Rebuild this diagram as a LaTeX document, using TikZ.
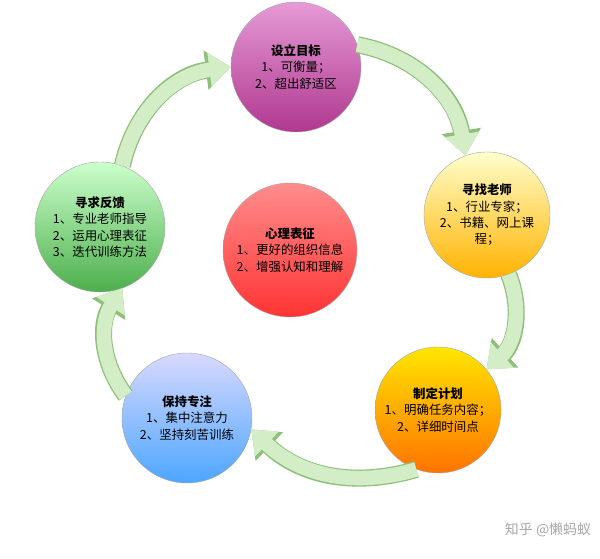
\documentclass[tikz,border=0pt]{standalone}
\usepackage{fontspec}
\setmainfont{Noto Sans CJK SC}
\usetikzlibrary{arrows.meta}
\definecolor{flowfill}{HTML}{D3EDC6}
\definecolor{flowedge}{HTML}{8DBF7A}
\definecolor{goaltop}{HTML}{E59AD6}
\definecolor{goalbot}{HTML}{B0388F}
\tikzset{
  stage/.style ={circle,draw=gray!70,minimum size=130bp,inner sep=0pt,align=center,font=\fontsize{12.5}{16.5}\selectfont},
  flowline/.style ={line width=17bp,draw=flowedge,-{Triangle[width=38bp,length=25bp]}},
  flow/.style  ={line width=14.5bp,draw=flowfill,-{Triangle[width=33bp,length=21.5bp]}}
}
\begin{document}
\begin{tikzpicture}[x=1bp,y=-1bp]
\useasboundingbox (0,0) rectangle (600,559);

% -------- stages --------
\node[stage,top color=goaltop,bottom color=goalbot] (goal) at (296,67)
  {\textbf{设立目标}\\1、可衡量；\\2、超出舒适区};
\node[stage,minimum size=126bp,top color=yellow!20,bottom color=orange!60!yellow] (mentor) at (487,215)
  {\textbf{寻找老师}\\1、行业专家；\\2、书籍、网上课\\程；};
\node[stage,minimum size=126bp,top color=yellow!80!orange,bottom color=orange!90!red] (plan) at (438,410)
  {\textbf{制定计划}\\1、明确任务内容；\\2、详细时间点};
\node[stage,top color=blue!15,bottom color=blue!50!cyan!70] (focus) at (187,418)
  {\textbf{保持专注}\\1、集中注意力\\2、坚持刻苦训练};
\node[stage,top color=green!20,bottom color=green!55!black!70] (feedback) at (100,227)
  {\textbf{寻求反馈}\\1、专业老师指导\\2、运用心理表征\\3、迭代训练方法};
\node[stage,minimum size=134bp,top color=red!45,bottom color=red!80] (mental) at (290,250)
  {\textbf{心理表征}\\1、更好的组织信息\\2、增强认知和理解};

% -------- cycle arrows --------
\foreach \s in {flowline,flow}{
  \draw[\s] (goal.20) to[bend left=35] (mentor.110);
  \draw[\s] (mentor.-70) to[bend left=35] (plan.40);
  \draw[\s] (plan.-110) to[bend left=30] (focus.-10);
  \draw[\s] (focus.160) to[bend left=35] (feedback.-70);
  \draw[\s] (feedback.70) to[bend left=35] (goal.180);
}

% -------- watermark --------
\node[font=\fontsize{14}{16}\selectfont,text=gray!70] (mark) at (548,530) {知乎 @懒蚂蚁};
\end{tikzpicture}
\end{document}
